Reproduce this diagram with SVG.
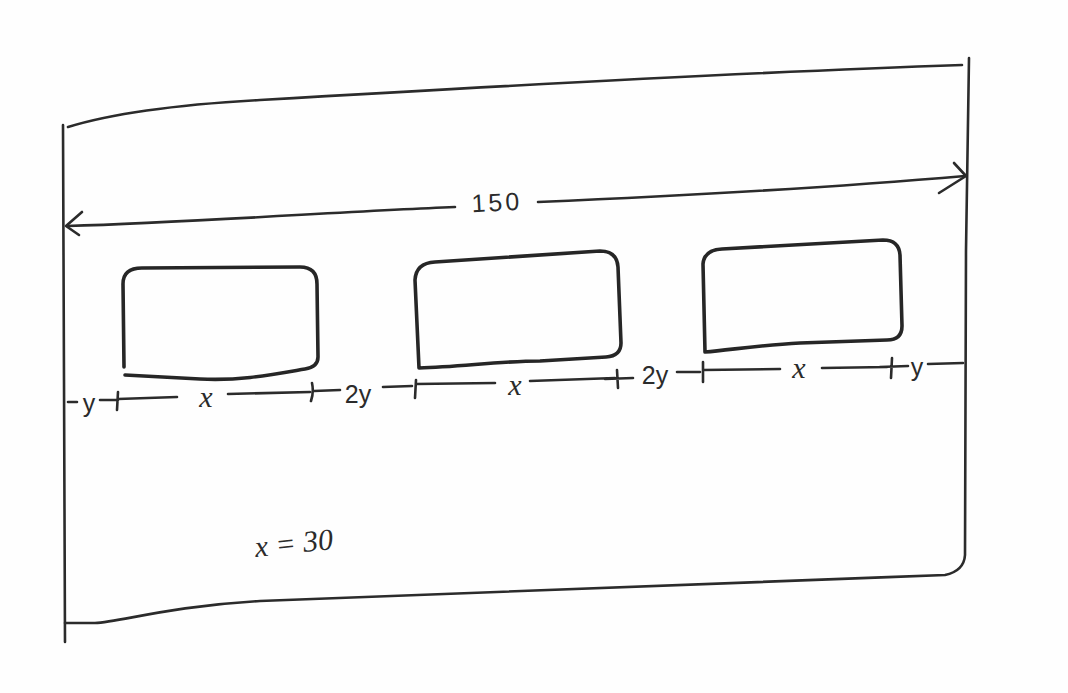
<svg xmlns="http://www.w3.org/2000/svg" width="1068" height="693" viewBox="0 0 1068 693">
<style>
.ink{fill:none;stroke:#2b2b2b;stroke-width:2.6;stroke-linecap:round;stroke-linejoin:round}
.box{fill:none;stroke:#262626;stroke-width:3.6;stroke-linecap:round;stroke-linejoin:round}
.lbl{font-family:"Liberation Sans",Arial,sans-serif;font-size:25px;fill:#2b2b2b}
.var{font-family:"Liberation Serif","Times New Roman",serif;font-style:italic;font-size:30px;fill:#2b2b2b}
</style>
<rect width="1068" height="693" fill="#fefefe"/>
<g id="frame">
<path class="ink" d="M63,125 L64,380 L65,642"/>
<path class="ink" d="M68,127 C110,114 170,105 260,100 C500,86 750,72 962,65"/>
<path class="ink" d="M969,58 L966,250 L965,555 Q964,571 945,575 C700,584 450,594 260,601 C170,606 120,622 95,623 L65,623"/>
</g>
<g id="box1"><path class="box" d="M123,284 Q123,268 142,268 L300,267 Q317,267 317,284 L318,357 Q318,367 305,369 C270,375 240,381 200,379 C160,377 140,376 125,375 M123,284 L124,367"/></g>
<g id="box2"><path class="box" d="M415,280 Q416,263 435,262 L600,251 Q617,251 618,267 L621,343 Q621,356 606,357 L540,361 C500,361 460,367 419,368 L415,280"/></g>
<g id="box3"><path class="box" d="M703,264 Q704,250 722,249 L883,240 Q899,240 900,255 L902,326 Q902,340 887,340 L800,343 C760,345 730,350 705,352 L703,264"/></g>
<g id="connectors">
<path class="ink" d="M67,226 C200,222 350,211 455,207"/>
<path class="ink" d="M538,202 C700,195 850,186 965,176"/>
<path class="ink" d="M82,212 L66,226 L79,235"/>
<path class="ink" d="M954,163 L966,176 L939,193"/>
<path class="ink" d="M68,402 L77,402 M100,400 L118,400 M118,392 L117,410 M118,399 L177,397 M228,394 L310,392 M312,383 Q314,392 311,401 M314,391 L340,390 M383,387 L412,386 M416,380 L415,398 M416,384 L495,383 M530,381 L615,378 M617,370 L618,388 M605,379 L633,378 M677,372 L700,372 M703,362 L703,382 M703,370 L780,369 M822,368 L887,367 M892,358 L891,378 M880,367 L908,366 M928,364 L963,363"/>
</g>
<g id="labels">
<text class="lbl" x="497" y="211" text-anchor="middle" letter-spacing="3" transform="rotate(-3 497 205)">150</text>
<text class="lbl" x="89" y="412" text-anchor="middle">y</text>
<text class="var" x="206" y="407" text-anchor="middle">x</text>
<text class="lbl" x="358" y="403" text-anchor="middle">2y</text>
<text class="var" x="515" y="395" text-anchor="middle">x</text>
<text class="lbl" x="655" y="384" text-anchor="middle">2y</text>
<text class="var" x="799" y="378" text-anchor="middle">x</text>
<text class="lbl" x="917" y="376" text-anchor="middle">y</text>
<text class="var" x="294" y="553" text-anchor="middle" font-size="32" transform="rotate(-6 294 545)">x = 30</text>
</g>
</svg>
